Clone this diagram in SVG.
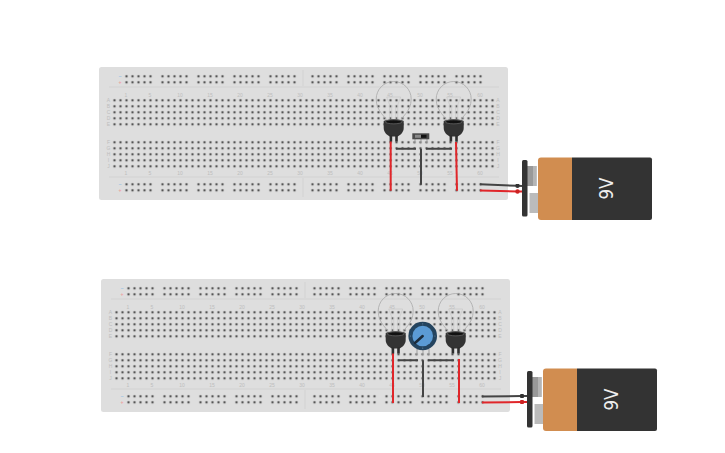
<svg xmlns="http://www.w3.org/2000/svg" width="725" height="453" viewBox="0 0 725 453">
<style>
.board{fill:#dedede}
.rule{stroke:#cfcfcf;stroke-width:.7;fill:none}
.lab{font-family:"Liberation Sans",sans-serif;font-size:5px;fill:#bdbdbd;text-anchor:middle}
.sign{font-family:"Liberation Sans",sans-serif;font-size:5.2px;font-weight:bold;text-anchor:middle}
.glass{fill:none;stroke:#a8a8a8;stroke-width:.8}
.fil{fill:none;stroke:#c8c8c8;stroke-width:.7}
.base{fill:#333}
.leg{stroke:#2e2e2e;stroke-width:2.6;fill:none}
.red{stroke:#e0262a;stroke-width:2;fill:none}
.blk{stroke:#444;stroke-width:2;fill:none}
.pin{stroke:#aaa;stroke-width:1.2;fill:none}
.bv{font-family:"DejaVu Sans",sans-serif;font-size:19px;fill:#eee;text-anchor:middle}
</style>
<defs>
<pattern id="h1" width="6" height="6" patternUnits="userSpaceOnUse" x="123.500" y="73.300"><circle cx="3" cy="3" r="1.500" fill="#bbb"/><circle cx="3" cy="3" r="1" fill="#333"/></pattern>
<pattern id="h2" width="6" height="6" patternUnits="userSpaceOnUse" x="125.500" y="285.300"><circle cx="3" cy="3" r="1.500" fill="#bbb"/><circle cx="3" cy="3" r="1" fill="#333"/></pattern>
<marker id="mb" viewBox="0 0 6 6" refX="3" refY="3" markerWidth="2.200" markerHeight="2.200"><circle cx="3" cy="3" r="3" fill="#333"/></marker>
<marker id="mr" viewBox="0 0 6 6" refX="3" refY="3" markerWidth="2.200" markerHeight="2.200"><circle cx="3" cy="3" r="3" fill="#c22"/></marker>
<g id="glassbulb">
<path class="glass" d="M-6.500 2C-7 -3-17.500 -8-17.500 -21A17.500 17.500 0 0 1 17.500 -21C17.500 -8 7 -3 6.500 2"/>
<path class="fil" d="M-4 0V-15L-7 -23H7L4 -15V0M-2 0V-15M2 0V-15"/>
</g>
<g id="socket">
<path class="base" d="M-10 1C-6 -1.500 6 -1.500 10 1V8C10 12 7 15 4 16.500H-4C-7 15-10 12-10 8Z"/>
<ellipse cx="0" cy="1.800" rx="8.500" ry="2" fill="#111" stroke="#888" stroke-width=".5"/>
<path class="leg" d="M-2.800 15V21.500M2.800 15V21.500"/>
</g>
</defs>

<g id="board-1">
<rect class="board" x="99" y="67" width="409" height="133" rx="2.500"/>
<path class="rule" d="M109 87H499M109 177H499M303 70V86M303 178V197"/>
<g fill="url(#h1)">
<rect x="123.500" y="73.300" width="30" height="12"/><rect x="159.500" y="73.300" width="30" height="12"/><rect x="195.500" y="73.300" width="30" height="12"/><rect x="231.500" y="73.300" width="30" height="12"/><rect x="267.500" y="73.300" width="30" height="12"/><rect x="309.500" y="73.300" width="30" height="12"/><rect x="345.500" y="73.300" width="30" height="12"/><rect x="381.500" y="73.300" width="30" height="12"/><rect x="417.500" y="73.300" width="30" height="12"/><rect x="453.500" y="73.300" width="30" height="12"/>
<rect x="123.500" y="181.300" width="30" height="12"/><rect x="159.500" y="181.300" width="30" height="12"/><rect x="195.500" y="181.300" width="30" height="12"/><rect x="231.500" y="181.300" width="30" height="12"/><rect x="267.500" y="181.300" width="30" height="12"/><rect x="309.500" y="181.300" width="30" height="12"/><rect x="345.500" y="181.300" width="30" height="12"/><rect x="381.500" y="181.300" width="30" height="12"/><rect x="417.500" y="181.300" width="30" height="12"/><rect x="453.500" y="181.300" width="30" height="12"/>
<rect x="111.500" y="97.300" width="384" height="30"/><rect x="111.500" y="139.300" width="384" height="30"/>
</g>
<text class="sign" x="120" y="78.200" fill="#9cc4e4">−</text><text class="sign" x="120" y="84.200" fill="#eda0a0">+</text>
<text class="sign" x="120" y="186.200" fill="#9cc4e4">−</text><text class="sign" x="120" y="192.200" fill="#eda0a0">+</text>
<g class="lab">
<text x="126" y="96.500">1</text><text x="150" y="96.500">5</text><text x="180" y="96.500">10</text><text x="210" y="96.500">15</text><text x="240" y="96.500">20</text><text x="270" y="96.500">25</text><text x="300" y="96.500">30</text><text x="330" y="96.500">35</text><text x="360" y="96.500">40</text><text x="390" y="96.500">45</text><text x="420" y="96.500">50</text><text x="450" y="96.500">55</text><text x="480" y="96.500">60</text>
<text x="126" y="175">1</text><text x="150" y="175">5</text><text x="180" y="175">10</text><text x="210" y="175">15</text><text x="240" y="175">20</text><text x="270" y="175">25</text><text x="300" y="175">30</text><text x="330" y="175">35</text><text x="360" y="175">40</text><text x="390" y="175">45</text><text x="420" y="175">50</text><text x="450" y="175">55</text><text x="480" y="175">60</text>
<text x="108.500" y="102">A</text><text x="108.500" y="108">B</text><text x="108.500" y="114">C</text><text x="108.500" y="120">D</text><text x="108.500" y="126">E</text><text x="108.500" y="144">F</text><text x="108.500" y="150">G</text><text x="108.500" y="156">H</text><text x="108.500" y="162">I</text><text x="108.500" y="168">J</text>
<text x="498" y="102">A</text><text x="498" y="108">B</text><text x="498" y="114">C</text><text x="498" y="120">D</text><text x="498" y="126">E</text><text x="498" y="144">F</text><text x="498" y="150">G</text><text x="498" y="156">H</text><text x="498" y="162">I</text><text x="498" y="168">J</text>
</g>
</g>

<g id="board-2">
<rect class="board" x="101" y="279" width="409" height="133" rx="2.500"/>
<path class="rule" d="M111 299H501M111 389H501M305 282V298M305 390V409"/>
<g fill="url(#h2)">
<rect x="125.500" y="285.300" width="30" height="12"/><rect x="161.500" y="285.300" width="30" height="12"/><rect x="197.500" y="285.300" width="30" height="12"/><rect x="233.500" y="285.300" width="30" height="12"/><rect x="269.500" y="285.300" width="30" height="12"/><rect x="311.500" y="285.300" width="30" height="12"/><rect x="347.500" y="285.300" width="30" height="12"/><rect x="383.500" y="285.300" width="30" height="12"/><rect x="419.500" y="285.300" width="30" height="12"/><rect x="455.500" y="285.300" width="30" height="12"/>
<rect x="125.500" y="393.300" width="30" height="12"/><rect x="161.500" y="393.300" width="30" height="12"/><rect x="197.500" y="393.300" width="30" height="12"/><rect x="233.500" y="393.300" width="30" height="12"/><rect x="269.500" y="393.300" width="30" height="12"/><rect x="311.500" y="393.300" width="30" height="12"/><rect x="347.500" y="393.300" width="30" height="12"/><rect x="383.500" y="393.300" width="30" height="12"/><rect x="419.500" y="393.300" width="30" height="12"/><rect x="455.500" y="393.300" width="30" height="12"/>
<rect x="113.500" y="309.300" width="384" height="30"/><rect x="113.500" y="351.300" width="384" height="30"/>
</g>
<text class="sign" x="122" y="290.200" fill="#9cc4e4">−</text><text class="sign" x="122" y="296.200" fill="#eda0a0">+</text>
<text class="sign" x="122" y="398.200" fill="#9cc4e4">−</text><text class="sign" x="122" y="404.200" fill="#eda0a0">+</text>
<g class="lab">
<text x="128" y="308.500">1</text><text x="152" y="308.500">5</text><text x="182" y="308.500">10</text><text x="212" y="308.500">15</text><text x="242" y="308.500">20</text><text x="272" y="308.500">25</text><text x="302" y="308.500">30</text><text x="332" y="308.500">35</text><text x="362" y="308.500">40</text><text x="392" y="308.500">45</text><text x="422" y="308.500">50</text><text x="452" y="308.500">55</text><text x="482" y="308.500">60</text>
<text x="128" y="387">1</text><text x="152" y="387">5</text><text x="182" y="387">10</text><text x="212" y="387">15</text><text x="242" y="387">20</text><text x="272" y="387">25</text><text x="302" y="387">30</text><text x="332" y="387">35</text><text x="362" y="387">40</text><text x="392" y="387">45</text><text x="422" y="387">50</text><text x="452" y="387">55</text><text x="482" y="387">60</text>
<text x="110.500" y="314">A</text><text x="110.500" y="320">B</text><text x="110.500" y="326">C</text><text x="110.500" y="332">D</text><text x="110.500" y="338">E</text><text x="110.500" y="356">F</text><text x="110.500" y="362">G</text><text x="110.500" y="368">H</text><text x="110.500" y="374">I</text><text x="110.500" y="380">J</text>
<text x="500" y="314">A</text><text x="500" y="320">B</text><text x="500" y="326">C</text><text x="500" y="332">D</text><text x="500" y="338">E</text><text x="500" y="356">F</text><text x="500" y="362">G</text><text x="500" y="368">H</text><text x="500" y="374">I</text><text x="500" y="380">J</text>
</g>
</g>

<g id="connectors">
<path class="red" d="M390.700 141V190.700"/>
<path class="red" d="M456 142L457 190.700"/>
<path class="blk" d="M396 148.700H416M426 148.700H452M421 148.700V184.700"/>
<path class="blk" d="M480 184.300L517.500 185.800L522 186" marker-mid="url(#mb)"/>
<path class="red" d="M480 190.500L517.500 191.500L522 191.600" marker-mid="url(#mr)"/>
<path class="red" d="M393 353V403"/>
<path class="red" d="M459 359V403"/>
<path class="blk" d="M398 360.300H418M428 360.300H454M423 360.300V397"/>
<path class="blk" d="M482 396.500L522 396L527 396" marker-mid="url(#mb)"/>
<path class="red" d="M482 402.500L522 402L527 402" marker-mid="url(#mr)"/>
</g>

<g id="bulb-1"><use href="#glassbulb" x="393.700" y="120"/><use href="#socket" x="393.700" y="120"/></g>
<g id="bulb-2"><use href="#glassbulb" x="453.700" y="120"/><use href="#socket" x="453.700" y="120"/></g>
<g id="switch"><path class="pin" d="M415 139V143M421 139V143M427 139V143"/><rect x="412.300" y="133.300" width="17" height="6" fill="#4a4a4a"/><rect x="415" y="134.800" width="6" height="3" fill="#888"/><rect x="421" y="134.800" width="5.500" height="3" fill="#111"/></g>
<g id="bulb-3"><use href="#glassbulb" x="395.700" y="332"/><use href="#socket" x="395.700" y="332"/></g>
<g id="bulb-4"><use href="#glassbulb" x="455.700" y="332"/><use href="#socket" x="455.700" y="332"/></g>
<g id="potentiometer"><path class="pin" d="M417 349V355M423 349V355M429 349V355"/><circle cx="422.700" cy="336" r="14.300" fill="#24445f"/><circle cx="422.700" cy="336" r="10.300" fill="#5b9bd5"/><g fill="#5f7f9a"><circle cx="422.700" cy="323.800" r=".6"/><circle cx="434.900" cy="336" r=".6"/><circle cx="410.500" cy="336" r=".6"/><circle cx="422.700" cy="348.200" r=".6"/></g><path d="M422.700 336L415 343" stroke="#1c2c3c" stroke-width="2.500" stroke-linecap="round"/></g>

<g id="battery-1">
<rect x="527" y="166" width="9.500" height="20" fill="#999"/><rect x="533" y="166" width="3.500" height="20" fill="#b5b5b5"/><rect x="529.500" y="193" width="8.500" height="20" fill="#bbb"/>
<rect x="522" y="160" width="5.500" height="56.500" rx="1.500" fill="#333"/>
<path d="M541 157.500H572V220H541Q538 220 538 217V160.500Q538 157.500 541 157.500Z" fill="#d18d50"/>
<path d="M572 157.500H650Q652 157.500 652 159.500V218Q652 220 650 220H572Z" fill="#333"/>
<text class="bv" transform="translate(613 188.500) rotate(-90)" textLength="22" lengthAdjust="spacingAndGlyphs">9V</text>
</g>
<g id="battery-2">
<rect x="532" y="377" width="9.500" height="20" fill="#999"/><rect x="538" y="377" width="3.500" height="20" fill="#b5b5b5"/><rect x="534.500" y="404" width="8.500" height="20" fill="#bbb"/>
<rect x="527" y="371" width="5.500" height="56.500" rx="1.500" fill="#333"/>
<path d="M546 368.500H577V431H546Q543 431 543 428V371.500Q543 368.500 546 368.500Z" fill="#d18d50"/>
<path d="M577 368.500H655Q657 368.500 657 370.500V429Q657 431 655 431H577Z" fill="#333"/>
<text class="bv" transform="translate(618 399.500) rotate(-90)" textLength="22" lengthAdjust="spacingAndGlyphs">9V</text>
</g>
</svg>
